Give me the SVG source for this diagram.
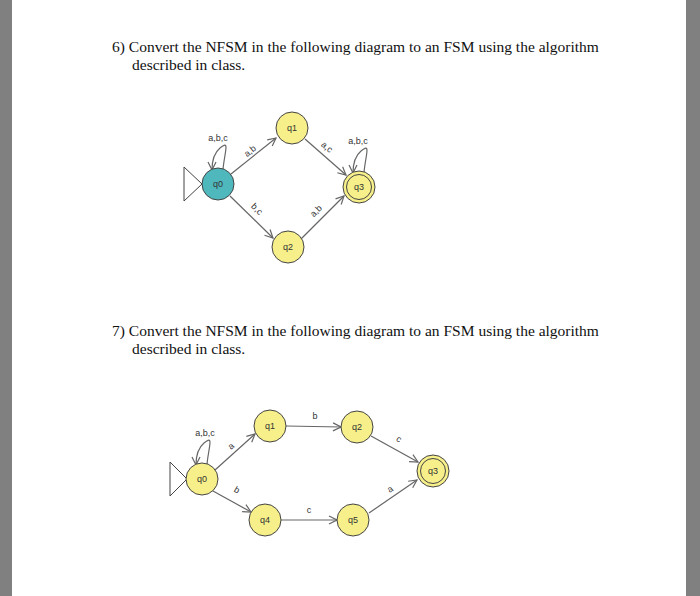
<svg xmlns="http://www.w3.org/2000/svg" width="700" height="596" viewBox="0 0 700 596">
<style>
.q{font-family:"Liberation Serif",serif;font-size:15.5px;fill:#111}
.n{stroke:#444;stroke-width:1}
.y{fill:#f7f08a}
.t{fill:#4fb8bd}
.l{font-family:"Liberation Sans",sans-serif;font-size:9px;fill:#333;text-anchor:middle}
.e{stroke:#666;stroke-width:1.2;fill:none;marker-end:url(#ar)}
</style>
<defs><marker id="ar" markerWidth="10" markerHeight="10" refX="9" refY="5" orient="auto" markerUnits="userSpaceOnUse"><path d="M1,1 L9,5 L1,9" fill="none" stroke="#666" stroke-width="1.2"/></marker></defs>
<rect width="700" height="596" fill="#808080"/>
<rect x="12" y="0" width="674" height="596" fill="#fff"/>
<text class="q" x="112" y="52">6) Convert the NFSM in the following diagram to an FSM using the algorithm</text>
<text class="q" x="132" y="70">described in class.</text>
<text class="q" x="112" y="336">7) Convert the NFSM in the following diagram to an FSM using the algorithm</text>
<text class="q" x="132" y="354">described in class.</text>
<g id="connectors">
<path class="e" d="M231,174 L276,138"/>
<path class="e" d="M230,196 L273,238"/>
<path class="e" d="M305,139 L346,175"/>
<path class="e" d="M301,239 L344,196"/>
<path class="e" d="M223,169 C225,150 230,140 220,148 C214,153 212,160 212,170"/>
<path class="e" d="M364,172 C366,153 371,143 361,151 C355,156 353,163 353,173"/>
<path class="e" d="M207,464 C209,445 214,435 204,443 C198,448 196,455 196,465"/>
<path class="e" d="M215,470 L255,434"/>
<path class="e" d="M213,491 L251,512"/>
<path class="e" d="M286,426 L341,427"/>
<path class="e" d="M281,520 L337,520"/>
<path class="e" d="M371,436 L418,462"/>
<path class="e" d="M369,513 L417,480"/>
<g class="l">
<text x="218" y="141">a,b,c</text><text x="358" y="144">a,b,c</text>
<text x="250" y="154" transform="rotate(-38 250 151)">a,b</text>
<text x="327" y="150" transform="rotate(40 327 147)">a,c</text>
<text x="257" y="212" transform="rotate(45 257 209)">b,c</text>
<text x="316" y="214" transform="rotate(-45 316 211)">a,b</text>
<text x="205" y="436">a,b,c</text>
<text x="231" y="449" transform="rotate(-40 231 446)">a</text>
<text x="315" y="419">b</text>
<text x="399" y="442" transform="rotate(35 399 439)">c</text>
<text x="237" y="493" transform="rotate(30 237 490)">b</text>
<text x="309" y="513">c</text>
<text x="390" y="492" transform="rotate(-35 390 489)">a</text>
</g>
</g>
<g id="s1">
<path d="M184,167 L202,184 L184,201 Z" fill="#fff" stroke="#444"/>
<path d="M170,462 L187,479 L170,496 Z" fill="#fff" stroke="#444"/>
</g>
<g id="d1q0"><circle class="n t" cx="218" cy="184" r="16"/><text class="l" x="218" y="187">q0</text></g>
<g id="d1q1"><circle class="n y" cx="292" cy="128" r="16"/><text class="l" x="292" y="131">q1</text></g>
<g id="d1q2"><circle class="n y" cx="288" cy="247" r="16"/><text class="l" x="288" y="250">q2</text></g>
<g id="d1q3"><circle class="n y" cx="359" cy="187" r="16"/><circle cx="359" cy="187" r="12.5" fill="none" stroke="#444"/><text class="l" x="359" y="190">q3</text></g>
<g id="d2q0"><circle class="n y" cx="202" cy="479" r="16"/><text class="l" x="202" y="482">q0</text></g>
<g id="d2q1"><circle class="n y" cx="270" cy="426" r="16"/><text class="l" x="270" y="429">q1</text></g>
<g id="d2q2"><circle class="n y" cx="357" cy="427" r="16"/><text class="l" x="357" y="430">q2</text></g>
<g id="d2q3"><circle class="n y" cx="433" cy="471" r="16"/><circle cx="433" cy="471" r="12.5" fill="none" stroke="#444"/><text class="l" x="433" y="474">q3</text></g>
<g id="d2q4"><circle class="n y" cx="265" cy="520" r="16"/><text class="l" x="265" y="523">q4</text></g>
<g id="d2q5"><circle class="n y" cx="353" cy="520" r="16"/><text class="l" x="353" y="523">q5</text></g>
</svg>
